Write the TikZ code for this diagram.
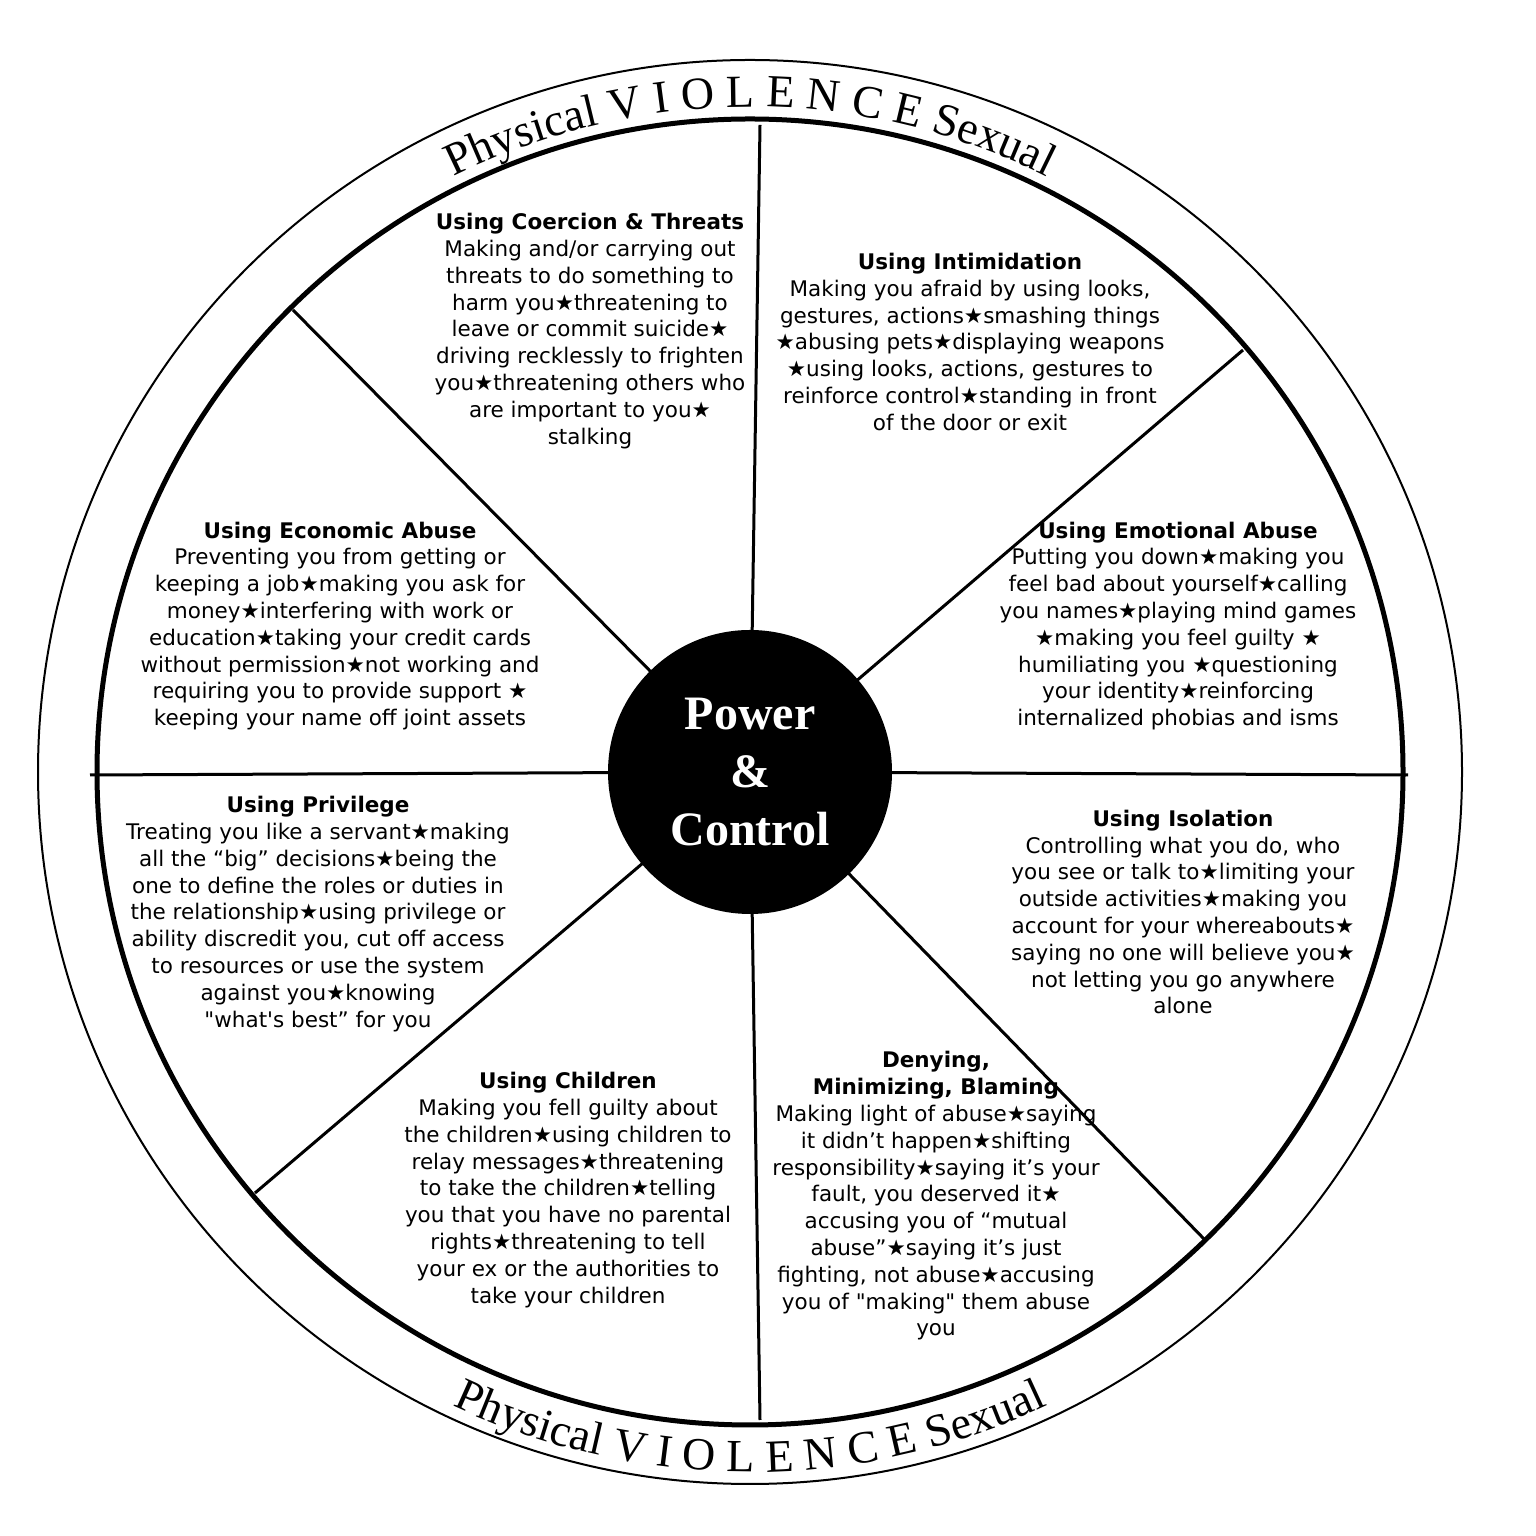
\documentclass[tikz,border=0pt]{standalone}
\usepackage{fontspec}
\newfontfamily\bodyfont{DejaVu Sans}
\newfontfamily\wheelserif{Liberation Serif}
\usetikzlibrary{decorations.text}
\begin{document}
\begin{tikzpicture}[x=1pt,y=1pt,
  spoke/.style={line width=3pt},
  blurb/.style={align=center,font=\bodyfont\fontsize{21.5}{26.8}\selectfont,inner sep=0pt}]
\useasboundingbox (0,0) rectangle (1536,1536);
\coordinate (c) at (750,764);
\draw[line width=2pt] (c) circle[radius=712];
\draw[line width=5pt] (c) circle[radius=653];
\coordinate (t) at (760,1411); \coordinate (b) at (760,116);
\coordinate (l) at (90,761); \coordinate (r) at (1408,761);
\coordinate (ul) at (293,1226); \coordinate (ur) at (1243,1186);
\coordinate (ll) at (255,343); \coordinate (lr) at (1205,296);
\foreach \p in {t,b,l,r,ul,ur,ll,lr} \draw[spoke] (\p) -- (c);
\node[circle,fill=black,minimum size=284pt,inner sep=0pt,text=white,align=center,
  font=\wheelserif\bfseries\fontsize{48}{58}\selectfont] (pc) at (c) {Power\\\&\\Control};
\path[decorate,decoration={text along path,text align=center,
  text={|\wheelserif\fontsize{46}{46}\selectfont|Physical  V I O L E N C E  Sexual}}]
  (c) ++(152:665) arc[start angle=152,end angle=28,radius=665];
\path[decorate,decoration={text along path,text align=center,
  text={|\wheelserif\fontsize{46}{46}\selectfont|Physical  V I O L E N C E  Sexual}}]
  (c) ++(208:700) arc[start angle=208,end angle=332,radius=700];
\node[blurb] (coer) at (590,1205) {\textbf{Using Coercion \& Threats}\\Making and/or carrying out\\threats to do something to\\harm you★threatening to\\leave  or commit suicide★\\driving recklessly to frighten\\you★threatening others who\\are important to you★\\stalking};
\node[blurb] (intim) at (970,1194) {\textbf{Using Intimidation}\\Making you afraid by using looks,\\gestures, actions★smashing things\\★abusing pets★displaying weapons\\★using looks, actions, gestures to\\reinforce control★standing in front\\of the door or exit};
\node[blurb] (econ) at (340,910) {\textbf{Using Economic Abuse}\\Preventing you from getting or\\keeping a job★making you ask for\\money★interfering with work or\\education★taking your credit cards\\without permission★not working and\\requiring you to provide support ★\\keeping your name off joint assets};
\node[blurb] (emo) at (1178,910) {\textbf{Using Emotional Abuse}\\Putting you down★making you\\feel bad about yourself★calling\\you names★playing mind games\\★making you feel guilty ★\\humiliating you ★questioning\\your identity★reinforcing\\internalized phobias and isms};
\node[blurb] (priv) at (318,622) {\textbf{Using Privilege}\\Treating you like a servant★making\\all the “big” decisions★being the\\one to define the roles or duties in\\the relationship★using privilege or\\ability discredit you, cut off access\\to resources or use the system\\against you★knowing\\"what's best” for you};
\node[blurb] (iso) at (1183,624) {\textbf{Using Isolation}\\Controlling what you do, who\\you see or talk to★limiting your\\outside activities★making you\\account for your whereabouts★\\saying no one will believe you★\\not letting you go anywhere\\alone};
\node[blurb] (child) at (568,346) {\textbf{Using Children}\\Making you fell guilty about\\the children★using children to\\relay messages★threatening\\to take the children★telling\\you that you have no parental\\rights★threatening to tell\\your ex or the authorities to\\take your children};
\node[blurb] (deny) at (936,340) {\textbf{Denying,}\\\textbf{Minimizing, Blaming}\\Making light of abuse★saying\\it didn’t happen★shifting\\responsibility★saying it’s your\\fault, you deserved it★\\accusing you of “mutual\\abuse”★saying it’s just\\fighting, not abuse★accusing\\you of "making" them abuse\\you};
\end{tikzpicture}
\end{document}
